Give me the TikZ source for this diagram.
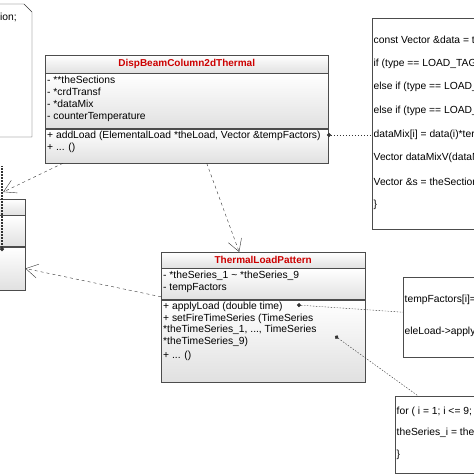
\documentclass[tikz,border=0pt]{standalone}
\usepackage{fontspec}
\setmainfont{Liberation Sans}
\usetikzlibrary{arrows.meta}

\begin{document}
\begin{tikzpicture}
        [
            x=1pt, y=-1pt,
            every node/.style={
                inner sep=0pt,
                font=\fontsize{10.3}{12.1}\selectfont
            },
            compart/.style={
                draw=black!70,
                anchor=north west,
                top color=white,
                bottom color=black!12
            },
            classname/.style={
                text=red!80!black,
                font=\fontsize{10}{11}\selectfont\bfseries
            },
            member/.style={anchor=north west, align=left, inner sep=2pt},
            codebox/.style={draw=black!70, fill=white, anchor=north west},
            codeline/.style={anchor=west},
            dep/.style={
                draw=black!80,
                dashed,
                -{Straight Barb[length=12pt, width=14pt]}
            },
            codelink/.style={
                draw=black!80,
                dash pattern=on 1.5pt off 1.5pt,
                {Circle[length=4pt]}-
            }
         ]
        \useasboundingbox (0,0) rectangle (474,474);

        % note, top left
        \draw[black!80, fill=white] (-5,4) -- (24,4) -- (32,12) -- (32,137) -- (-5,137);
        \node[anchor=east] (noteText) at (17,17) {ion;};

        % class cut by the left border
        \node[compart, minimum width=40, minimum height=16] (leftHead) at (-15,199) {};
        \node[compart, minimum width=40, minimum height=31] (leftAttr) at (leftHead.south west) {};
        \node[compart, minimum width=40, minimum height=43] (leftOps) at (leftAttr.south west) {};
        \coordinate (leftDot) at (2,251);
        \coordinate (leftTop) at (2,166);
        \draw[codelink, line width=1.2pt] (leftDot) -- (leftTop);

        % DispBeamColumn2dThermal
        \node[compart, classname, minimum width=283, minimum height=18] (dispHead) at (45,55) {DispBeamColumn2dThermal};
        \node[compart, minimum width=283, minimum height=55] (dispAttr) at (dispHead.south west) {};
        \node[member] (dispAttrText) at (dispAttr.north west)
            {- **theSections\\- *crdTransf\\- *dataMix\\- counterTemperature};
        \node[compart, minimum width=283, minimum height=34] (dispOps) at (dispAttr.south west) {};
        \node[member] (dispOpsText) at (dispOps.north west)
            {+ addLoad (ElementalLoad *theLoad, Vector \&tempFactors)\\+ ... ()};

        % addLoad code
        \node[codebox, minimum width=110, minimum height=211] (codeAdd) at (372,18) {};
        \foreach \line [count=\i from 0] in {const Vector \&data = t, if (type == LOAD\_TAG,
                else if (type == LOAD\_, else if (type == LOAD\_, dataMix[i] = data(i)*ter,
                Vector dataMixV(dataM, Vector \&s = theSection, \}}
            \node[codeline] (addLine\i) at (373.5,40+23.6*\i) {\line};
        \coordinate (dispDot) at (327,135);
        \draw[codelink] (dispDot) -- (dispDot -| codeAdd.west);

        % ThermalLoadPattern
        \node[compart, classname, minimum width=204, minimum height=16] (tlpHead) at (161,252) {ThermalLoadPattern};
        \node[compart, minimum width=204, minimum height=31] (tlpAttr) at (tlpHead.south west) {};
        \node[member] (tlpAttrText) at (tlpAttr.north west)
            {- *theSeries\_1 \textasciitilde{} *theSeries\_9\\- tempFactors};
        \node[compart, minimum width=204, minimum height=82] (tlpOps) at (tlpAttr.south west) {};
        \node[member, font=\fontsize{10.3}{11.6}\selectfont] (tlpOpsText) at (tlpOps.north west)
            {+ applyLoad (double time)\\+ setFireTimeSeries (TimeSeries\\*theTimeSeries\_1, ..., TimeSeries\\*theTimeSeries\_9)\\[3pt]+ ... ()};

        % applyLoad code
        \node[codebox, minimum width=80, minimum height=80] (codeApply) at (403,277) {};
        \node[codeline] (applyLine0) at (404.5,300) {tempFactors[i]=};
        \node[codeline] (applyLine1) at (404.5,332) {eleLoad->apply};

        % setFireTimeSeries code
        \node[codebox, minimum width=90, minimum height=77] (codeFire) at (395,396) {};
        \node[codeline] (fireLine0) at (396.5,412) {for ( i = 1; i <= 9;};
        \node[codeline] (fireLine1) at (396.5,433) {theSeries\_i = the};
        \node[codeline] (fireLine2) at (396.5,455) {\}};

        \coordinate (tlpDotA) at (297,305);
        \coordinate (tlpDotB) at (335,336);
        \draw[codelink] (tlpDotA) -- ([yshift=5pt]codeApply.west);
        \draw[codelink] (tlpDotB) -- ([xshift=-22pt]codeFire.north);

        % dependencies
        \draw[dep] ([xshift=18pt]dispOps.south west) -- ([shift={(-2,-7)}]leftHead.north);
        \draw[dep] ([yshift=3pt]tlpAttr.south west) -- (leftOps.east);
        \draw[dep] ([xshift=20pt]dispOps.south) -- ([xshift=-24pt]tlpHead.north);
    \end{tikzpicture}
\end{document}
